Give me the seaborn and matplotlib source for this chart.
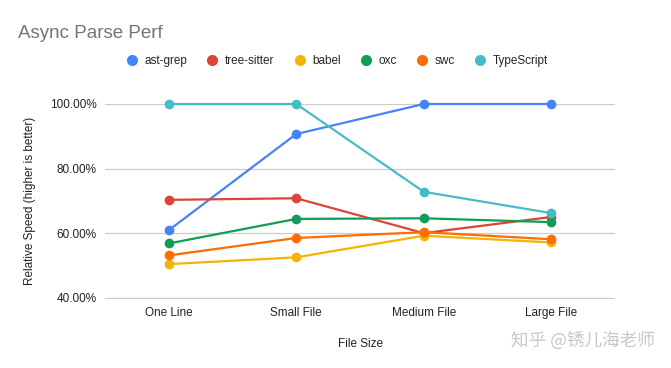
import matplotlib
matplotlib.use("Agg")
import matplotlib.pyplot as plt
from matplotlib.ticker import FuncFormatter
from matplotlib.lines import Line2D
import seaborn as sns
import pandas as pd

categories = ["One Line", "Small File", "Medium File", "Large File"]
series_names = ["ast-grep", "tree-sitter", "babel", "oxc", "swc", "TypeScript"]
ast_grep = [60.9, 90.7, 100.0, 100.0]
tree_sitter = [70.3, 70.8, 60.0, 65.0]
babel = [50.4, 52.5, 59.2, 57.1]
oxc = [56.8, 64.4, 64.6, 63.4]
swc = [53.1, 58.5, 60.3, 58.1]
typescript = [100.0, 100.0, 72.8, 66.2]
yticks = [40, 60, 80, 100]

colors = ["#4285F4", "#DB4437", "#F4B400", "#0F9D58", "#FF6D01", "#46BDC6"]

values = [ast_grep, tree_sitter, babel, oxc, swc, typescript]
rows = []
for name, vals in zip(series_names, values):
    for i, (c, v) in enumerate(zip(categories, vals)):
        rows.append({"File Size": i, "Category": c, "Series": name, "Value": v})
df = pd.DataFrame(rows)

sns.set_theme(style="white")
plt.rcParams["font.family"] = ["Liberation Sans", "DejaVu Sans"]

fig = plt.figure(figsize=(6.71, 3.68), dpi=100)
ax = fig.add_axes([105/671, 1-298.5/368, 510/671, (298.5-104)/368])

palette = dict(zip(series_names, colors))
sns.lineplot(data=df, x="File Size", y="Value", hue="Series", hue_order=series_names,
             palette=palette, marker="o", markersize=7, markeredgewidth=0,
             linewidth=1.6, ax=ax, legend=False, clip_on=False)

ax.set_xlim(-0.5, 3.5)
ax.set_ylim(39.75, 100)
ax.set_yticks(yticks)
ax.yaxis.set_major_formatter(FuncFormatter(lambda v, p: f"{v:.2f}%"))
ax.set_xticks(range(len(categories)))
ax.set_xticklabels(categories)
ax.grid(axis="y", color="#cccccc", linewidth=0.9)
ax.set_axisbelow(True)
for s in ax.spines.values():
    s.set_visible(False)
ax.tick_params(axis="both", length=0, labelsize=8.5, colors="#222222")
ax.tick_params(axis="x", pad=6)
ax.tick_params(axis="y", pad=6)
ax.set_xlabel("File Size", fontsize=8.5, color="#222222", labelpad=14)
ax.set_ylabel("Relative Speed (higher is better)", fontsize=8.5, color="#222222", labelpad=10)

fig.text(18/671, 1-33/368, "Async Parse Perf", fontsize=13.5, color="#757575", va="center", ha="left")

handles = [Line2D([], [], linestyle="none", marker="o", markersize=8, markeredgewidth=0, color=c) for c in colors]
fig.legend(handles, series_names, loc="center", bbox_to_anchor=(0.502, 1-61/368), ncol=6,
           frameon=False, fontsize=8.5, handletextpad=0.55, columnspacing=1.65, handlelength=1.0)

fig.text(655/671, 1-341/368, "知乎 @锈儿海老师", fontsize=12.7, color="#c8c8c8", ha="right", va="center",
         family=["Noto Sans CJK SC", "DejaVu Sans"])

fig.savefig("out.png", dpi=100, facecolor="white")
